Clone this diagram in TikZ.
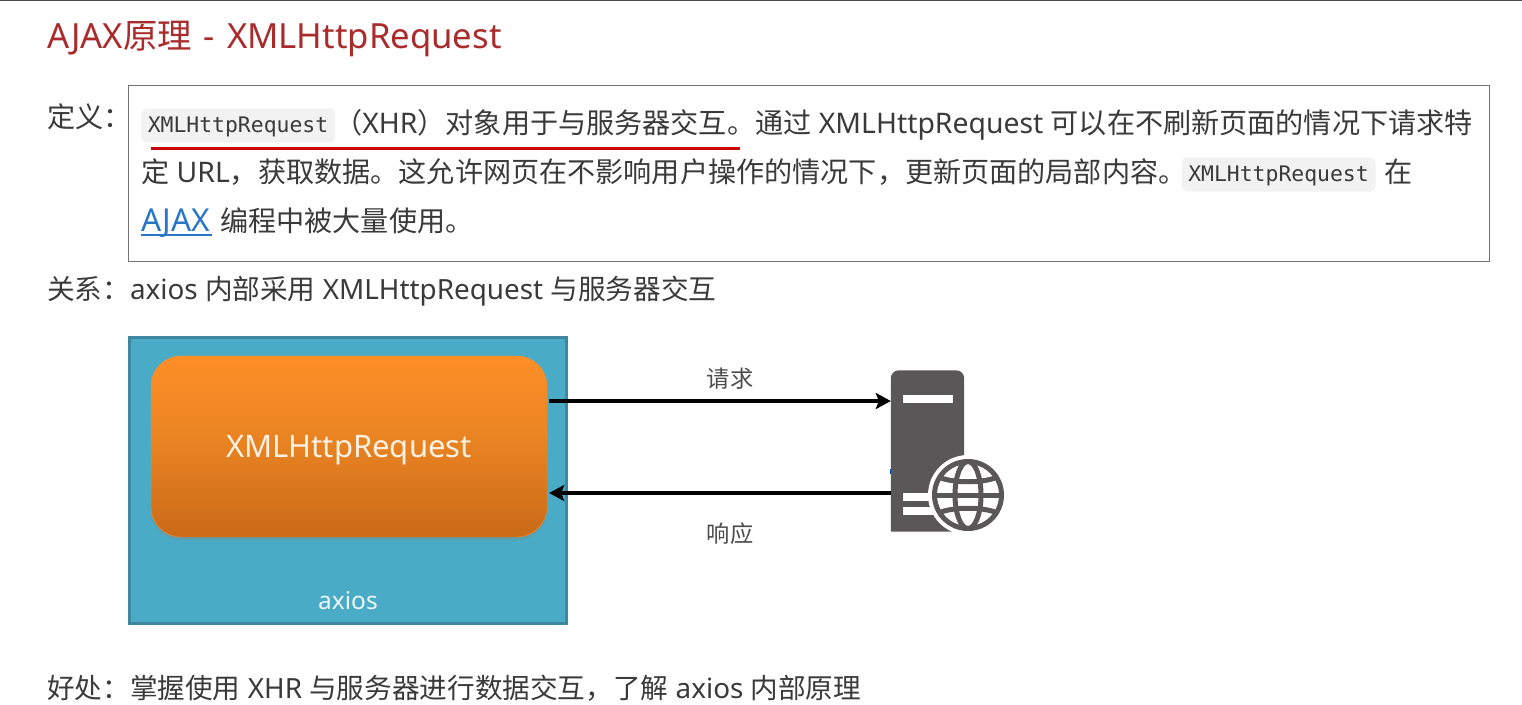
\documentclass[tikz,border=0pt]{standalone}
\usepackage{fontspec}
\setmainfont[Scale=1.02]{Noto Sans}
\newfontfamily\zh[Scale=1.012]{Noto Sans CJK SC}
\newfontfamily\pillfont{DejaVu Sans Mono}
\usetikzlibrary{arrows.meta,shadows,positioning}
\definecolor{bodytxt}{HTML}{3A3A3A}
\definecolor{titlered}{HTML}{A92B2B}
\definecolor{linkblue}{HTML}{2A76C6}
\definecolor{axiosblue}{HTML}{4AABC6}
\definecolor{axiosedge}{HTML}{3F86A0}
\definecolor{orangetop}{HTML}{FF8F27}
\definecolor{orangemid}{HTML}{E78222}
\definecolor{orangebot}{HTML}{C96A18}
\definecolor{iconGrey}{HTML}{595757}
\newcommand{\fs}[1]{\fontsize{#1}{#1}\selectfont}

\begin{document}
\begin{tikzpicture}[x=1pt,y=-1pt,
    txt/.style={anchor=base west,inner sep=0,text=bodytxt,font=\fs{27.8}},
    pill/.style={fill=black!5,rounded corners=5pt,minimum width=194pt,
        minimum height=34pt,inner sep=0,text height=17pt,text depth=3pt,
        text=bodytxt,font=\pillfont\fs{21.4}},
    conn/.style={draw=black,line width=3.5pt,-{Stealth[length=15pt,width=16pt,inset=3pt]}},
    glb/.style={draw=iconGrey,line width=5pt}]

    \useasboundingbox (0,0) rectangle (1522,704);
    \draw[black!70,line width=1.5pt] (0,0.5) -- (1522,0.5);

    % the texts
    \node[txt,text=titlered,font=\fs{34}] (title) at (47,48) {AJAX{\zh 原理}\hspace{3pt} - \hspace{3pt}XMLHttpRequest};
    \node[txt] (def) at (47,127) {\zh 定义：};
    \node[draw=black!55,line width=1pt,minimum width=1361pt,minimum height=176pt,
        inner sep=0] (defbox) at (808.5,173) {};
    \node[pill] (code) at (238,125.5) {XMLHttpRequest};
    \node[txt] (line) at (334,133) {{\zh （}XHR{\zh ）对象用于与服务器交互。通过} XMLHttpRequest {\zh 可以在不刷新页面的情况下请求特}};
    \draw[red!80!black,line width=3pt] (151,148) -- (740,148);
    \node[txt] (linb) at (141,182) {{\zh 定} URL{\zh ，获取数据。这允许网页在不影响用户操作的情况下，更新页面的局部内容。}};
    \node[pill] (codeb) at (1278.5,174.5) {XMLHttpRequest};
    \node[txt] (zai) at (1384,182) {\zh 在};
    \node[txt,text=linkblue,font=\fs{31}] (ajax) at (141,231) {AJAX};
    \draw[linkblue,line width=2pt] (ajax.base west)+(0,3.5) -- +(71,3.5);
    \node[txt] (linc) at (220,231) {\zh 编程中被大量使用。};
    \node[txt,font=\fs{27.3}] (rel) at (47,299) {{\zh 关系：}axios {\zh 内部采用} XMLHttpRequest {\zh 与服务器交互}};
    \node[txt,font=\fs{27.3}] (good) at (47,698) {{\zh 好处：掌握使用} XHR {\zh 与服务器进行数据交互，了解} axios {\zh 内部原理}};

    % the boxes
    \node[draw=axiosedge,fill=axiosblue,line width=2.5pt,minimum width=437pt,
        minimum height=286pt,inner sep=0] (axios) at (348,480.5) {};
    \node[anchor=base,inner sep=0,text=white!90!axiosblue,font=\fs{24}] (axlab)
        at (348,609) {axios};
    \node[draw=orangetop,rounded corners=30pt,minimum width=396pt,minimum height=181pt,
        inner sep=0,top color=orangetop,bottom color=orangebot,middle color=orangemid,
        drop shadow={shadow xshift=0pt,shadow yshift=-3pt,opacity=.3},
        text height=24pt,text depth=3pt,
        text=white!90!orange,font=\fs{30.4}] (xhr) at (349,446.5) {XMLHttpRequest};

    % the server
    \node[minimum width=73pt,minimum height=161pt,inner sep=0] (server) at (927.5,451) {};
    \fill[iconGrey,rounded corners=8pt] (server.south west) -- (server.north west)
        -- (server.north east) -- (server.south east);
    \fill[blue!60!cyan!70!black] (889.5,469) rectangle (891,474);
    \fill[white] (903,395) rectangle (953,403);
    \fill[white] (903,493) rectangle (935,501);
    \fill[white] (903,507) rectangle (935,515);
    \fill[white] (968,495) circle (40);
    \draw[glb] (968,495) circle (33.5);
    \draw[glb] (968,495) ellipse (13 and 33.5);
    \draw[glb] (934.5,495) -- (1001.5,495);
    \draw[glb] (941,478) .. controls (955,483) and (981,483) .. (995,478);
    \draw[glb] (941,512) .. controls (955,507) and (981,507) .. (995,512);

    % the arrows
    \draw[conn,shorten <=2pt] ([yshift=45.5pt]xhr.east) -- ([yshift=50pt]server.west);
    \draw[conn,shorten >=2pt] ([yshift=-42pt]server.west) -- ([yshift=-46.5pt]xhr.east);
    \node[txt,anchor=base,font=\zh\fs{23},text=black!70] (req) at (730,387) {请求};
    \node[txt,anchor=base,font=\zh\fs{23},text=black!70] (res) at (730,542) {响应};

  \end{tikzpicture}
\end{document}
